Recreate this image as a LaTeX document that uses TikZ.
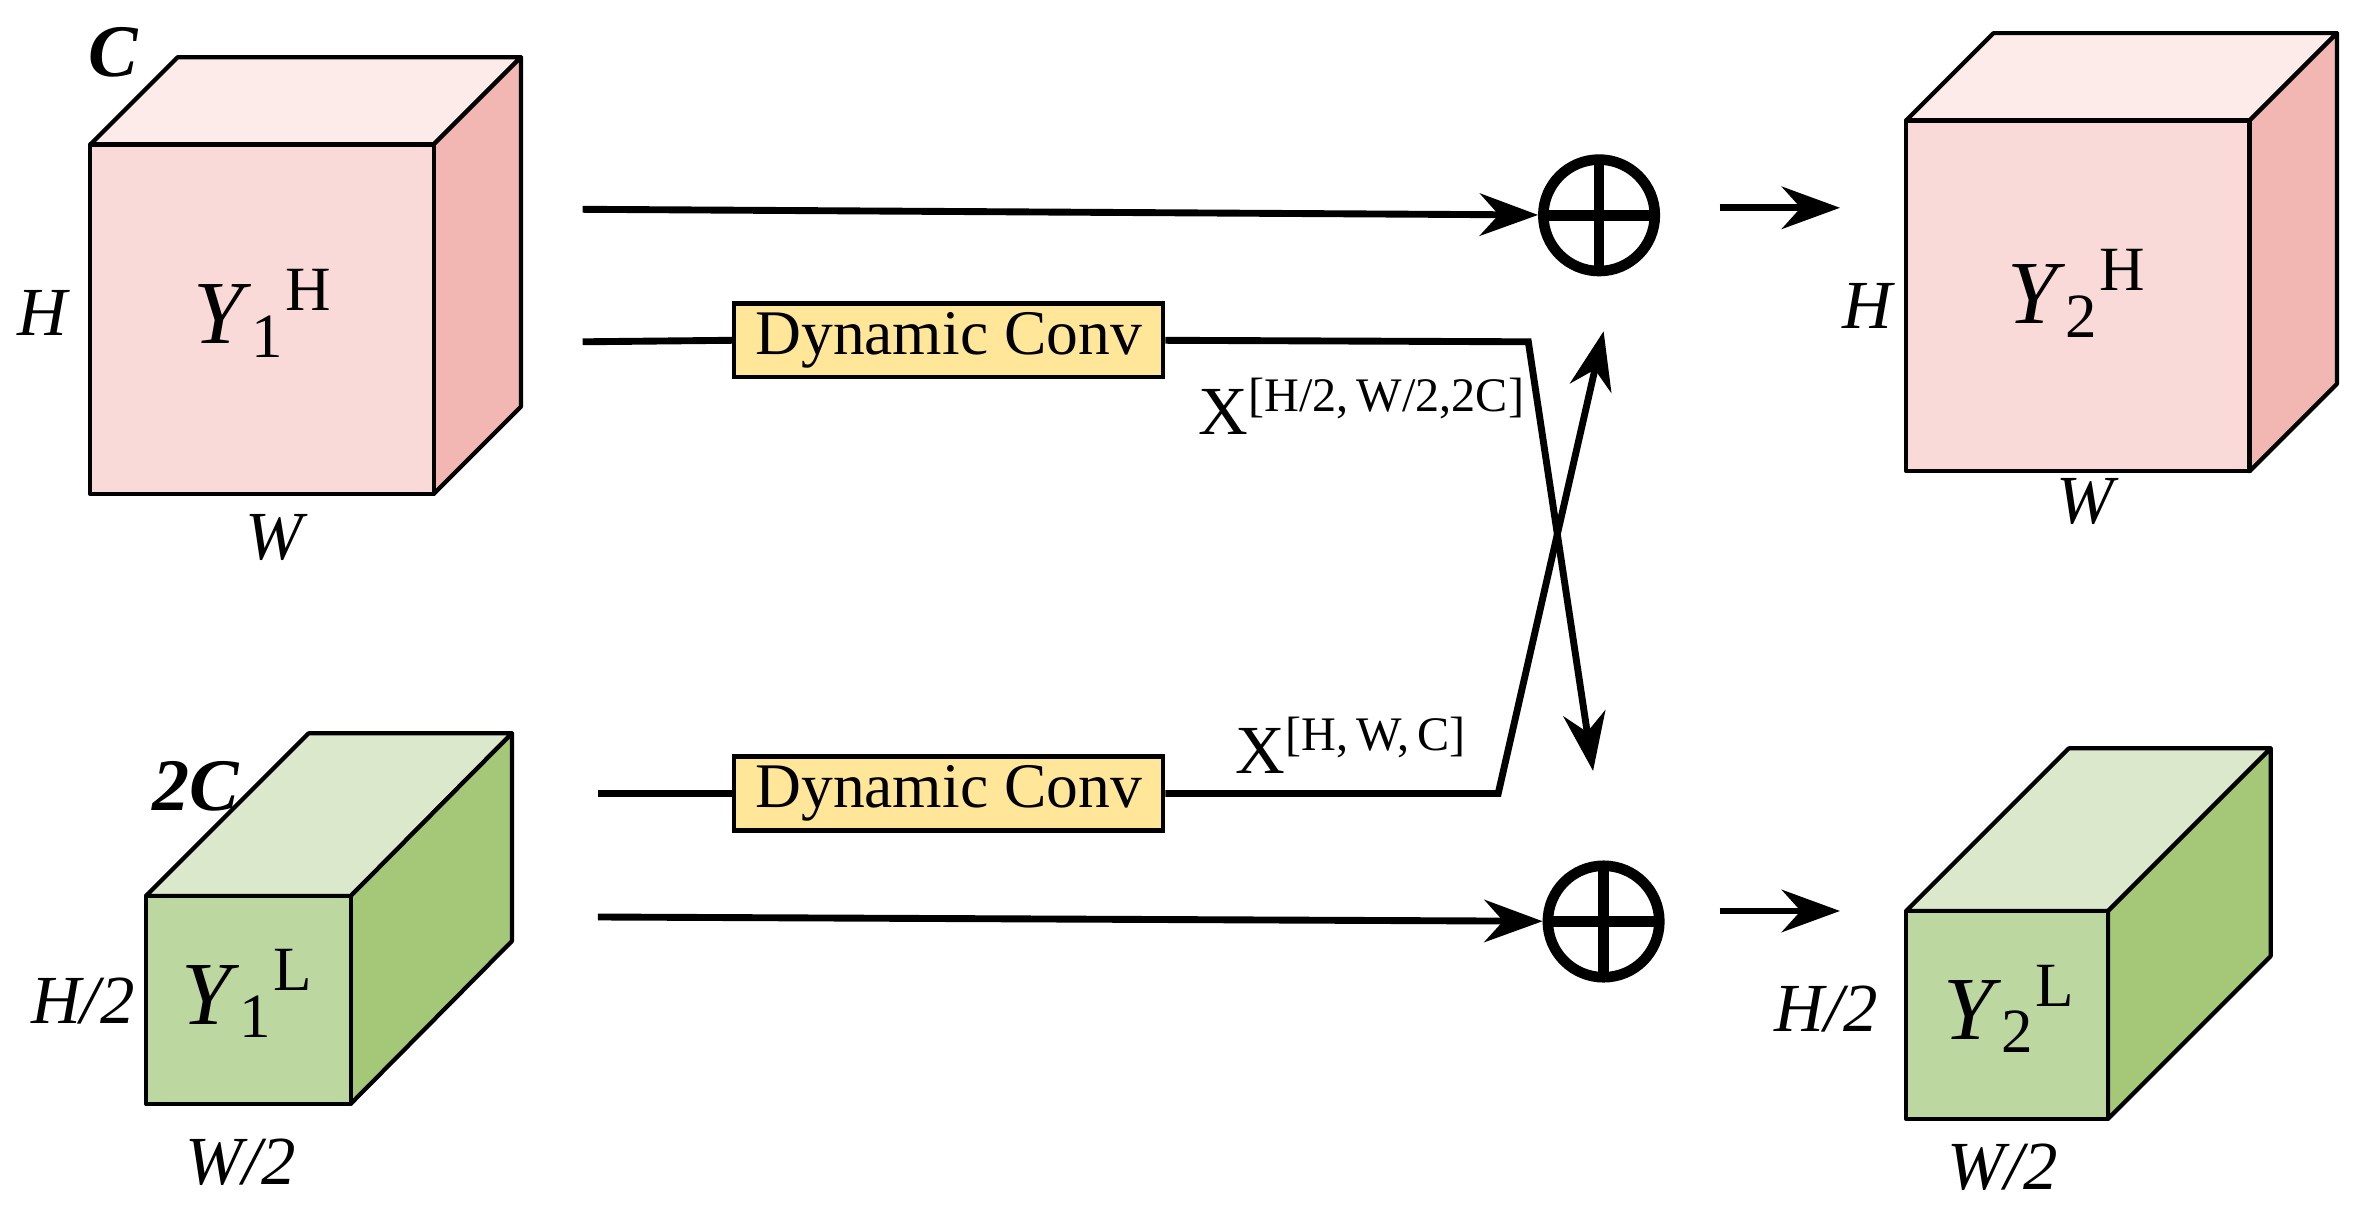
\documentclass[tikz,border=0pt]{standalone}
\usepackage{amsmath}
\usepackage{fontspec}
\setmainfont{Liberation Serif}
\usetikzlibrary{arrows.meta}
\definecolor{pf}{HTML}{F9DAD8}\definecolor{pt}{HTML}{FDEBEA}\definecolor{pr}{HTML}{F2B6B3}
\definecolor{gf}{HTML}{BDD7A0}\definecolor{gt}{HTML}{DCE8CB}\definecolor{gr}{HTML}{A4C878}
\definecolor{bx}{HTML}{FFE699}
\newcommand{\myY}[2]{\textit{Y}$_{\text{#1}}{}^{\text{#2}}$}
\begin{document}
\begin{tikzpicture}[x=0.01cm,y=-0.01cm,
 face/.style={draw=black,line width=0.8pt,line join=round},
 ln/.style={line width=1.3pt},
 ar/.style={ln,-{Stealth[length=11pt,width=8pt]}},
 conv/.style={draw=black,fill=bx,line width=0.8pt,minimum width=2.85cm,minimum height=0.49cm,font=\fontsize{12}{13}\selectfont,inner sep=0pt},
 op/.style={circle,draw=black,line width=2pt,minimum size=0.74cm,inner sep=0pt,
   path picture={\draw[line width=2pt] (path picture bounding box.north)--(path picture bounding box.south) (path picture bounding box.west)--(path picture bounding box.east);}},
 lab/.style={font=\fontsize{13}{15}\selectfont\itshape},
 ylab/.style={font=\fontsize{17}{19}\selectfont},
 xl/.style={font=\fontsize{13}{15}\selectfont}]
\useasboundingbox (0,0) rectangle (1568,806);
% top-left
\filldraw[face,fill=pt] (60,96)--(118,38)--(346,38)--(288,96)--cycle;
\filldraw[face,fill=pr] (288,96)--(346,38)--(346,270)--(288,328)--cycle;
\filldraw[face,fill=pf] (60,96) rectangle (288,328);
\node[font=\fontsize{14}{14}\selectfont\bfseries\itshape] (c1) at (75,35) {C};
\node[lab] (h1) at (28,208) {H};
\node[lab] (w1) at (182,357) {W};
\node[ylab] (y1h) at (175,208) {\myY{1}{H}};
% top-right
\filldraw[face,fill=pt] (1266,80)--(1324,22)--(1552,22)--(1494,80)--cycle;
\filldraw[face,fill=pr] (1494,80)--(1552,22)--(1552,255)--(1494,313)--cycle;
\filldraw[face,fill=pf] (1266,80) rectangle (1494,313);
\node[lab] (h2) at (1240,203) {H};
\node[lab] (w2) at (1385,333) {W};
\node[ylab] (y2h) at (1380,195) {\myY{2}{H}};
% bottom-left
\filldraw[face,fill=gt] (97,595)--(205,487)--(340,487)--(233,595)--cycle;
\filldraw[face,fill=gr] (233,595)--(340,487)--(340,625)--(233,733)--cycle;
\filldraw[face,fill=gf] (97,595) rectangle (233,733);
\node[font=\fontsize{14}{14}\selectfont\bfseries\itshape] (c2) at (130,522) {2C};
\node[lab] (h3) at (55,665) {H/2};
\node[lab] (w3) at (160,772) {W/2};
\node[ylab] (y1l) at (165,660) {\myY{1}{L}};
% bottom-right
\filldraw[face,fill=gt] (1266,605)--(1374,497)--(1508,497)--(1400,605)--cycle;
\filldraw[face,fill=gr] (1400,605)--(1508,497)--(1508,635)--(1400,743)--cycle;
\filldraw[face,fill=gf] (1266,605) rectangle (1400,743);
\node[lab] (h4) at (1213,670) {H/2};
\node[lab] (w4) at (1330,775) {W/2};
\node[ylab] (y2l) at (1335,670) {\myY{2}{L}};
% flow
\node[op] (o1) at (1062,143) {};
\node[op] (o2) at (1065,612) {};
\node[conv] (d1) at (630,226) {Dynamic Conv};
\node[conv] (d2) at (630,527) {Dynamic Conv};
\coordinate (a1) at (387,139); \coordinate (a2) at (387,227);
\coordinate (a3) at (397,527); \coordinate (a4) at (397,609);
\coordinate (k1) at (1015,227); \coordinate (k2) at (995,527);
\coordinate (e1) at (1058,512); \coordinate (e2) at (1065,220);
\coordinate (r1s) at (1142,138); \coordinate (r1e) at (1222,138);
\coordinate (r2s) at (1142,605); \coordinate (r2e) at (1222,605);
\draw[ar] (a1)--(o1);
\draw[ln] (a2)--(d1.west);
\draw[ar] (d1.east)--(k1)--(e1);
\draw[ln] (a3)--(d2.west);
\draw[ar] (d2.east)--(k2)--(e2);
\draw[ar] (a4)--(o2);
\draw[ar] (r1s)--(r1e);
\draw[ar] (r2s)--(r2e);
\node[xl] (x1) at (905,270) {X$^{\text{[H/2,\,W/2,2C]}}$};
\node[xl] (x2) at (898,495) {X$^{\text{[H,\,W,\,C]}}$};
\end{tikzpicture}
\end{document}
